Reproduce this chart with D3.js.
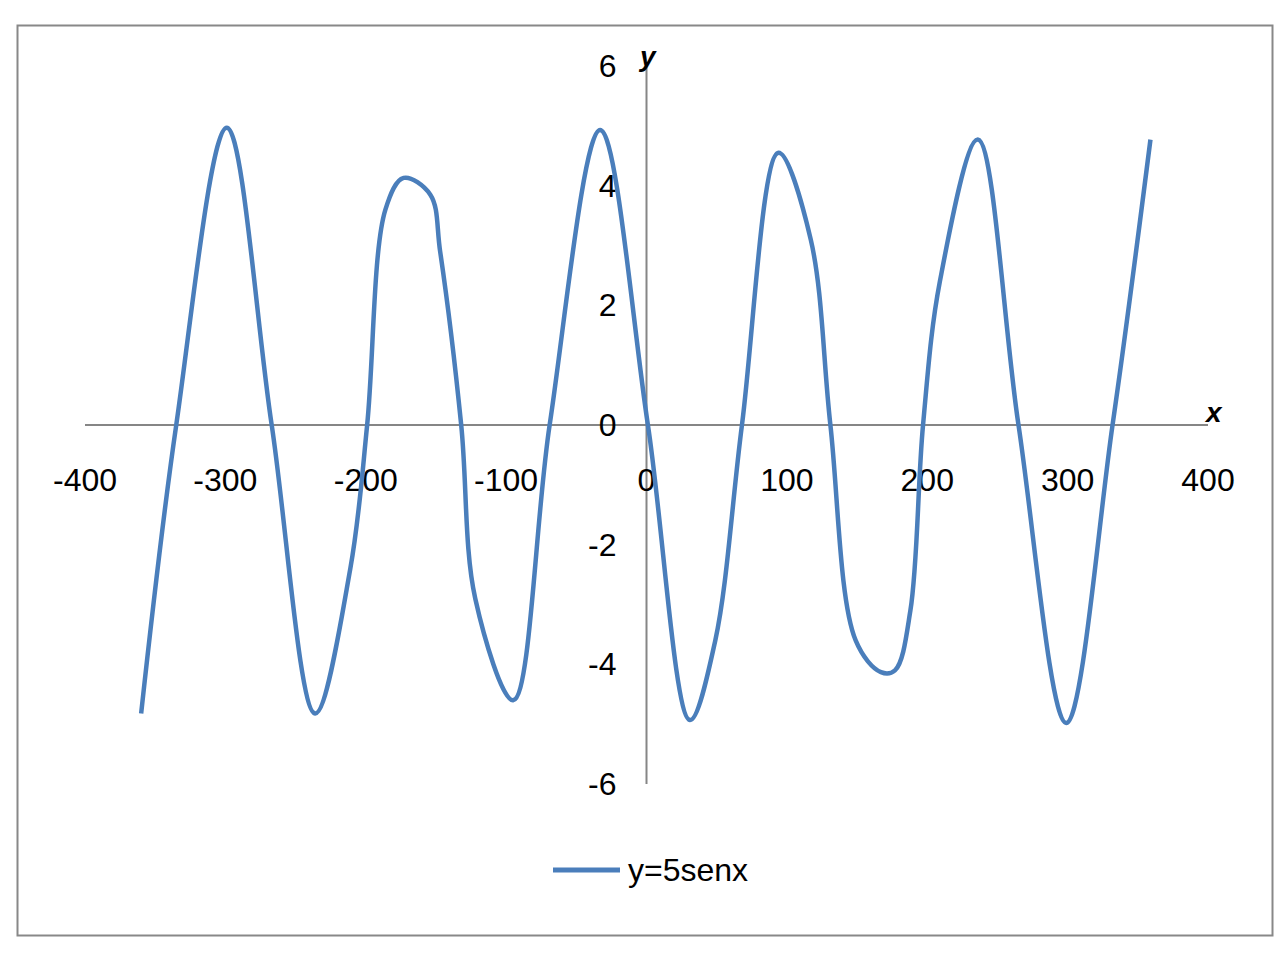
<!DOCTYPE html>
<html><head><meta charset="utf-8">
<script src="https://cdn.jsdelivr.net/npm/d3@7"></script>
<style>body{margin:0;background:#fff}text{font-family:"Liberation Sans Narrow","Liberation Sans",sans-serif}</style>
</head><body><svg id="c" width="1284" height="968"></svg>
<script>
const xs=[-360,-335,-299,-267,-236,-211,-199,-186,-173,-154,-147,-132,-122,-95,-69,-33,1,31,49,68,94,117,131,149,167,177,188,197,209,236,265,299,332,359];
const ys=[-4.82,0,4.97,0,-4.82,-2.4,0,3.6,4.13,3.85,2.9,0,-2.9,-4.6,0,4.93,0,-4.93,-3.6,0,4.55,3.1,0,-3.6,-4.13,-4.1,-3.1,0,2.4,4.77,0,-4.98,0,4.77];
const xTicks=[-400,-300,-200,-100,0,100,200,300,400];
const yTicks=[-6,-4,-2,0,2,4,6];
const seriesName="y=5senx";
const svg=d3.select("#c");
svg.append("rect").attr("x",17.5).attr("y",25.5).attr("width",1255).attr("height",910).attr("fill","#fff").attr("stroke","#888").attr("stroke-width",2);
const x=d3.scaleLinear().domain([-400,400]).range([85,1208]);
const y=d3.scaleLinear().domain([-6,6]).range([784,66]);
svg.append("line").attr("x1",x(-400)).attr("x2",x(400)).attr("y1",y(0)).attr("y2",y(0)).attr("stroke","#868686").attr("stroke-width",2);
svg.append("line").attr("x1",x(0)).attr("x2",x(0)).attr("y1",y(6)).attr("y2",y(-6)).attr("stroke","#868686").attr("stroke-width",2);
svg.selectAll(".xt").data(xTicks).join("text").attr("x",d=>x(d)).attr("y",y(0)+66).attr("text-anchor","middle").attr("font-size",32).attr("fill","#000").text(d=>d);
svg.selectAll(".yt").data(yTicks).join("text").attr("x",x(0)-30).attr("y",d=>y(d)+11).attr("text-anchor","end").attr("font-size",32).attr("fill","#000").text(d=>d);
svg.append("text").attr("x",1206).attr("y",422).attr("font-family","Liberation Serif").attr("font-style","italic").attr("font-weight","bold").attr("font-size",28).text("x");
svg.append("text").attr("x",640).attr("y",66).attr("font-family","Liberation Serif").attr("font-style","italic").attr("font-weight","bold").attr("font-size",28).text("y");
const pts=xs.map((v,i)=>[v,ys[i]]);
svg.append("path").datum(pts).attr("fill","none").attr("stroke","#4a7ebb").attr("stroke-width",4.5)
 .attr("d",d3.line().x(d=>x(d[0])).y(d=>y(d[1])).curve(d3.curveCatmullRom.alpha(0.5)));
svg.append("line").attr("x1",553).attr("x2",620).attr("y1",870).attr("y2",870).attr("stroke","#4a7ebb").attr("stroke-width",5);
svg.append("text").attr("x",628).attr("y",881).attr("font-size",32).text(seriesName);
</script></body></html>
